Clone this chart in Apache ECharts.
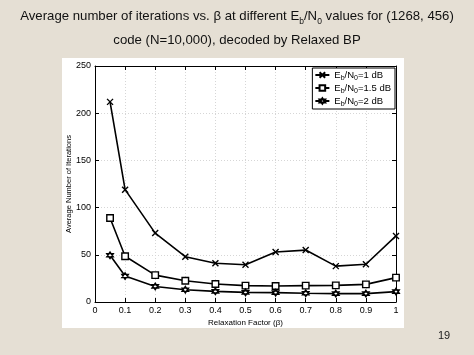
<!DOCTYPE html>
<html><head><meta charset="utf-8">
<script src="https://cdn.jsdelivr.net/npm/echarts@6/dist/echarts.min.js"></script>
<style>html,body{margin:0;padding:0;background:#e4ddd1;}#c{width:474px;height:355px;}</style>
</head><body><div id="c"></div>
<script>
const betaValues = [0.05, 0.1, 0.2, 0.3, 0.4, 0.5, 0.6, 0.7, 0.8, 0.9, 1.0];
const iter1dB   = [212, 119, 73, 48, 41, 39.5, 53, 55, 38, 40, 70];
const iter15dB  = [89, 48.5, 28.5, 22.5, 19, 17.3, 17, 17.3, 17.6, 18.7, 25.8];
const iter2dB   = [49.5, 27.5, 16.5, 13, 11.3, 10.2, 9.9, 9.3, 8.9, 8.9, 11];
const seriesNames = ['1 dB', '1.5 dB', '2 dB'];
const yTicks = [0, 50, 100, 150, 200, 250];

const FONT = 'Liberation Sans, Arial, sans-serif';
const crossSym = 'path://M0,0L10,10M10,0L0,10';
const hexSym = 'path://M5,0L9.33,7.5L0.67,7.5Z M5,10L0.67,2.5L9.33,2.5Z';
const symbols = [crossSym, 'rect', hexSym];
const dataSets = [iter1dB, iter15dB, iter2dB];

const chart = echarts.init(document.getElementById('c'), null, {renderer: 'canvas'});
const subRich = {
  t: {fontFamily: FONT, fontSize: 13.2, fontWeight: 'normal', color: '#111'},
  s: {fontFamily: FONT, fontSize: 8.5, fontWeight: 'normal', color: '#111', verticalAlign: 'bottom', padding: [0,0,-3,0]}
};
const legRich = {
  t: {fontFamily: FONT, fontSize: 9.5, color: '#000'},
  s: {fontFamily: FONT, fontSize: 7, color: '#000', verticalAlign: 'bottom', padding: [0,0,-2,0]}
};
const axisCommon = {
  type: 'value',
  axisLine: {show: true, onZero: false, lineStyle: {color: '#000', width: 1}},
  axisTick: {show: true, inside: true, length: 4, lineStyle: {color: '#000'}},
  splitLine: {show: false}
};
const option = {
  backgroundColor: '#e5dfd4',
  animation: false,
  title: [
    {text: '{t|Average number of iterations vs. β at different E}{s|b}{t|/N}{s|0}{t| values for (1268, 456)}',
     left: 'center', top: 5, textStyle: {rich: subRich, fontWeight: 'normal'}},
    {text: 'code (N=10,000), decoded by Relaxed BP', left: 'center', top: 29,
     textStyle: {fontFamily: FONT, fontSize: 13.2, fontWeight: 'normal', color: '#111'}},
    {text: '19', left: 433, top: 325, textStyle: {fontFamily: FONT, fontSize: 11, fontWeight: 'normal', color: '#222'}}
  ],
  graphic: [{type: 'rect', shape: {x: 62, y: 58, width: 342, height: 270}, style: {fill: '#ffffff'}, z: -10, silent: true}],
  grid: {left: 95, right: 78, top: 66, bottom: 53},
  legend: {
    data: seriesNames, orient: 'vertical', right: 79, top: 68,
    backgroundColor: '#fff', borderColor: '#000', borderWidth: 1,
    padding: [2, 4, 1, 2], itemGap: 1, itemWidth: 14, itemHeight: 7,
    formatter: n => '{t|E}{s|b}{t|/N}{s|0}{t|=' + n + '}',
    textStyle: {rich: legRich, padding: [0,0,0,0]}
  },
  xAxis: [
    Object.assign({}, axisCommon, {
      min: 0, max: 1, interval: 0.1, position: 'bottom',
      name: 'Relaxation Factor (β)', nameLocation: 'middle', nameGap: 17, nameMoveOverlap: false,
      nameTextStyle: {fontFamily: FONT, fontSize: 8, color: '#000'},
      axisLabel: {fontFamily: FONT, fontSize: 9, color: '#000', margin: 4,
        formatter: v => String(Math.round(v * 10) / 10)},
      splitLine: {show: true, lineStyle: {color: '#d6d6d6', type: [1, 2], width: 1}}
    }),
    Object.assign({}, axisCommon, {min: 0, max: 1, interval: 0.1, position: 'top', axisLabel: {show: false}})
  ],
  yAxis: [
    Object.assign({}, axisCommon, {
      min: yTicks[0], max: yTicks[yTicks.length - 1], interval: 50, position: 'left',
      name: 'Average Number of Iterations', nameLocation: 'middle', nameGap: 22, nameMoveOverlap: false,
      nameTextStyle: {fontFamily: FONT, fontSize: 7.5, color: '#000'},
      axisLabel: {fontFamily: FONT, fontSize: 9, color: '#000', margin: 4},
      splitLine: {show: true, lineStyle: {color: '#d6d6d6', type: [1, 2], width: 1}}
    }),
    Object.assign({}, axisCommon, {min: 0, max: 250, interval: 50, position: 'right', axisLabel: {show: false}})
  ],
  series: dataSets.map((d, i) => ({
    name: seriesNames[i], type: 'line', xAxisIndex: 0, yAxisIndex: 0,
    data: betaValues.map((b, j) => [b, d[j]]),
    symbol: symbols[i], symbolSize: i === 0 ? 6 : 6.5, showAllSymbol: true,
    lineStyle: {color: '#000', width: 1.6},
    itemStyle: {color: '#fff', borderColor: '#000', borderWidth: 1.4},
    emphasis: {disabled: true}
  }))
};
chart.setOption(option);
</script></body></html>
